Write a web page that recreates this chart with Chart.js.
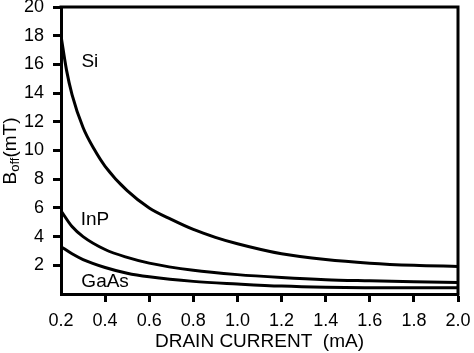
<!DOCTYPE html>
<html>
<head>
<meta charset="utf-8">
<script src="https://cdn.jsdelivr.net/npm/chart.js@4.4.0/dist/chart.umd.min.js"></script>
<style>
  html, body { margin: 0; padding: 0; background: #fff; }
  #c { display: block; }
</style>
</head>
<body>
<canvas id="c" width="474" height="353"></canvas>
<script>
// ---- data ----
const xTickLabels = ['0.2','0.4','0.6','0.8','1.0','1.2','1.4','1.6','1.8','2.0'];
const yTickLabels = ['2','4','6','8','10','12','14','16','18','20'];

const siCurrent = [0.2, 0.225, 0.25, 0.3, 0.35, 0.4, 0.5, 0.6, 0.7, 0.8, 0.9, 1.0, 1.2, 1.4, 1.6, 1.8, 2.0];
const siBoff    = [18.0, 15.6, 13.9, 11.6, 10.1, 8.9, 7.2, 6.0, 5.2, 4.5, 3.95, 3.5, 2.8, 2.4, 2.15, 2.0, 1.92];

const inpCurrent = [0.2, 0.25, 0.3, 0.4, 0.5, 0.6, 0.8, 1.0, 1.2, 1.4, 1.6, 1.8, 2.0];
const inpBoff    = [5.8, 4.7, 4.0, 3.1, 2.55, 2.15, 1.65, 1.35, 1.15, 1.0, 0.92, 0.85, 0.8];

const gaasCurrent = [0.2, 0.25, 0.3, 0.4, 0.5, 0.6, 0.8, 1.0, 1.2, 1.4, 1.6, 1.8, 2.0];
const gaasBoff    = [3.3, 2.8, 2.4, 1.85, 1.45, 1.2, 0.88, 0.7, 0.55, 0.47, 0.44, 0.43, 0.43];

const seriesNames = ['Si', 'InP', 'GaAs'];
// label anchor points (data coordinates)
const labelAnchors = [
  { text: 'Si',   x: 0.331, y: 16.2 },
  { text: 'InP',  x: 0.354, y: 5.15 },
  { text: 'GaAs', x: 0.40,  y: 0.84 }
];

const FONT = "'Liberation Sans', Arial, sans-serif";

function pts(xs, ys) { return xs.map((x, i) => ({ x: x, y: ys[i] })); }

function noPad(s) { s.paddingTop = 0; s.paddingBottom = 0; s.paddingLeft = 0; s.paddingRight = 0; }

const boxPlugin = {
  id: 'boxAndLabels',
  afterDatasetsDraw(chart) {
    const ctx = chart.ctx;
    const a = chart.chartArea;
    const xs = chart.scales.x, ys = chart.scales.y;
    ctx.save();
    // top and right frame lines
    ctx.strokeStyle = '#000';
    ctx.lineWidth = 3;
    ctx.beginPath();
    ctx.moveTo(a.left - 1.5, a.top);
    ctx.lineTo(a.right, a.top);
    ctx.lineTo(a.right, a.bottom + 1.5);
    ctx.stroke();
    // curve labels
    ctx.fillStyle = '#000';
    ctx.font = '19px ' + FONT;
    ctx.textAlign = 'center';
    ctx.textBaseline = 'middle';
    labelAnchors.forEach(l => {
      ctx.fillText(l.text, xs.getPixelForValue(l.x), ys.getPixelForValue(l.y));
    });
    ctx.restore();
  },
  afterDraw(chart) {
    // y-axis title with subscript: B_off(mT)
    const ctx = chart.ctx;
    ctx.save();
    const main = '19px ' + FONT, sub = '13px ' + FONT;
    ctx.font = main; const wB = ctx.measureText('B').width; const wM = ctx.measureText('(mT)').width;
    ctx.font = sub; const wO = ctx.measureText('off').width;
    const w = wB + wO + wM;
    ctx.translate(15.5, 151);
    ctx.rotate(-Math.PI / 2);
    ctx.fillStyle = '#000';
    ctx.textAlign = 'left';
    ctx.textBaseline = 'alphabetic';
    let x = -w / 2;
    ctx.font = main; ctx.fillText('B', x, 0); x += wB;
    ctx.font = sub; ctx.fillText('off', x, 3); x += wO;
    ctx.font = main; ctx.fillText('(mT)', x, 0);
    ctx.restore();
  }
};

const lineStyle = {
  borderColor: '#000',
  borderWidth: 3,
  pointRadius: 0,
  fill: false,
  cubicInterpolationMode: 'monotone'
};

new Chart(document.getElementById('c'), {
  type: 'line',
  data: {
    datasets: [
      Object.assign({ label: seriesNames[0], data: pts(siCurrent, siBoff) }, lineStyle),
      Object.assign({ label: seriesNames[1], data: pts(inpCurrent, inpBoff) }, lineStyle),
      Object.assign({ label: seriesNames[2], data: pts(gaasCurrent, gaasBoff) }, lineStyle)
    ]
  },
  options: {
    responsive: false,
    devicePixelRatio: 1,
    animation: false,
    layout: { padding: { top: 7, right: 16, left: 0, bottom: 0 } },
    plugins: { legend: { display: false }, tooltip: { enabled: false } },
    scales: {
      x: {
        type: 'linear',
        min: 0.2, max: 2.0,
        afterFit: s => { s.height = 59; noPad(s); },
        afterBuildTicks: s => { s.ticks = xTickLabels.map(t => ({ value: parseFloat(t) })); },
        ticks: {
          color: '#000',
          font: { family: FONT, size: 18 },
          padding: 8,
          maxRotation: 0,
          autoSkip: false,
          callback: (v, i) => xTickLabels[i]
        },
        grid: {
          drawOnChartArea: false,
          drawTicks: true,
          tickLength: 8,
          tickWidth: 3,
          tickColor: c => (c.index === 0 ? 'rgba(0,0,0,0)' : '#000')
        },
        border: { display: true, color: '#000', width: 3 },
        title: {
          display: true,
          text: 'DRAIN CURRENT  (mA)',
          color: '#000',
          font: { family: FONT, size: 19 },
          padding: { top: 0, bottom: 0 }
        }
      },
      y: {
        type: 'linear',
        min: 0, max: 20,
        afterFit: s => { s.width = 61; noPad(s); },
        afterBuildTicks: s => { s.ticks = [{ value: 0 }].concat(yTickLabels.map(t => ({ value: parseFloat(t) }))); },
        ticks: {
          color: '#000',
          font: { family: FONT, size: 18 },
          padding: 9,
          autoSkip: false,
          callback: (v, i) => (i === 0 ? '' : yTickLabels[i - 1])
        },
        grid: {
          drawOnChartArea: false,
          drawTicks: true,
          tickLength: 8,
          tickWidth: 3,
          tickColor: c => (c.index === 0 ? 'rgba(0,0,0,0)' : '#000')
        },
        border: { display: true, color: '#000', width: 3 }
      }
    }
  },
  plugins: [boxPlugin]
});
</script>
</body>
</html>
